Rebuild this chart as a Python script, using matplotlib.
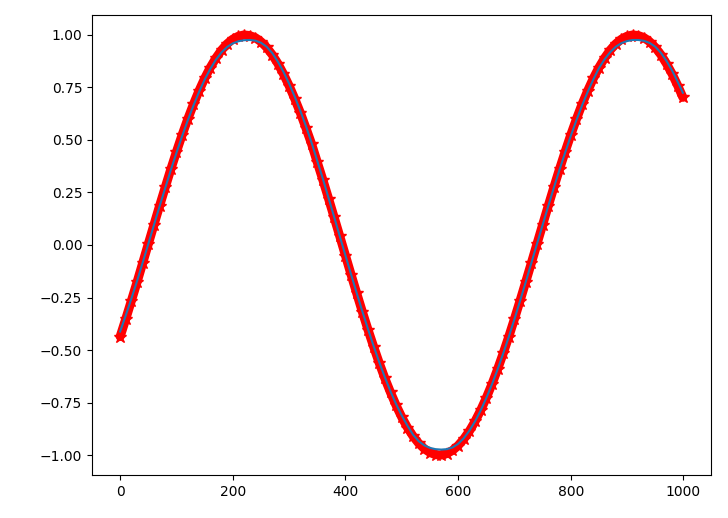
import matplotlib
matplotlib.use("Agg")
import matplotlib.pyplot as plt

# sample positions (index along the series)
x_vals = list(range(0, 1000, 10)) + [999]

y_data = [-0.436, -0.352, -0.265, -0.177, -0.086, 0.005, 0.096, 0.186, 0.274, 0.361,
          0.444, 0.524, 0.599, 0.669, 0.734, 0.793, 0.845, 0.890, 0.928, 0.958,
          0.980, 0.994, 1.000, 0.997, 0.987, 0.968, 0.941, 0.906, 0.864, 0.814,
          0.758, 0.696, 0.629, 0.556, 0.480, 0.394, 0.309, 0.221, 0.131, 0.041,
          -0.050, -0.141, -0.230, -0.318, -0.403, -0.484, -0.562, -0.635, -0.702, -0.764,
          -0.820, -0.869, -0.910, -0.944, -0.970, -0.988, -0.998, -1.000, -0.993, -0.978,
          -0.955, -0.924, -0.886, -0.840, -0.787, -0.728, -0.663, -0.592, -0.516, -0.436,
          -0.352, -0.265, -0.176, -0.086, 0.005, 0.096, 0.186, 0.275, 0.361, 0.444,
          0.524, 0.599, 0.670, 0.734, 0.793, 0.845, 0.890, 0.928, 0.958, 0.980,
          0.994, 1.000, 0.997, 0.987, 0.968, 0.941, 0.906, 0.863, 0.814, 0.758,
          0.703]

# fitted curve (blue line)
y_fit = [-0.412, -0.335, -0.255, -0.172, -0.084, 0.005, 0.095, 0.184, 0.271, 0.357,
         0.439, 0.518, 0.593, 0.663, 0.728, 0.787, 0.838, 0.882, 0.917, 0.943,
         0.960, 0.970, 0.975, 0.976, 0.973, 0.963, 0.944, 0.914, 0.873, 0.824,
         0.768, 0.706, 0.638, 0.565, 0.486, 0.400, 0.314, 0.224, 0.133, 0.041,
         -0.050, -0.140, -0.229, -0.316, -0.400, -0.481, -0.558, -0.630, -0.697, -0.758,
         -0.812, -0.860, -0.903, -0.934, -0.954, -0.966, -0.972, -0.974, -0.972, -0.964,
         -0.947, -0.920, -0.884, -0.840, -0.788, -0.729, -0.664, -0.593, -0.517, -0.437,
         -0.353, -0.266, -0.177, -0.086, 0.005, 0.095, 0.185, 0.273, 0.358, 0.440,
         0.519, 0.594, 0.664, 0.729, 0.788, 0.842, 0.884, 0.918, 0.944, 0.961,
         0.971, 0.976, 0.976, 0.972, 0.962, 0.944, 0.915, 0.876, 0.830, 0.776,
         0.725]

fig = plt.figure(figsize=(7.28, 5.18), dpi=100)
ax = fig.add_axes([92/728, 1 - 475/518, (711 - 92)/728, (475 - 15)/518])

# dense star markers -> thick red band
ax.plot(x_vals, y_data, color='red', linewidth=6.5, solid_capstyle='round',
        solid_joinstyle='round', marker='*', markersize=9)
ax.plot(x_vals, y_fit, color='C0', linewidth=1.5)

ax.set_ylim(-1.095, 1.095)
ax.set_yticks([-1.0, -0.75, -0.5, -0.25, 0.0, 0.25, 0.5, 0.75, 1.0])
ax.set_xticks([0, 200, 400, 600, 800, 1000])

fig.savefig('out.png', dpi=100)
